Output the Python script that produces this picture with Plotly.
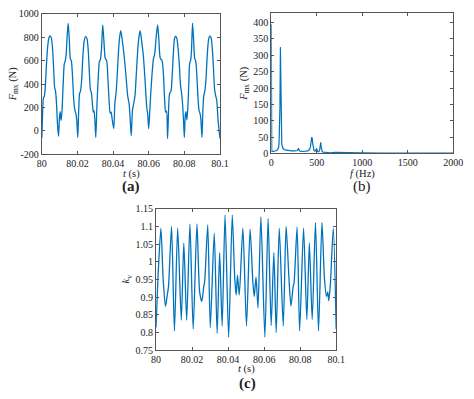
import plotly.graph_objects as go

# ---------------- data ----------------
# (a) F_mx waveform: time offsets (ms after 80 s) and force (N)
a_ms = [0.0, 0.5, 0.9, 1.4, 1.9, 2.6, 3.3, 4.0, 4.7, 5.4, 6.1, 6.7, 7.2, 7.7, 8.2, 8.8, 9.4,
        9.9, 10.3, 10.8, 11.3,
        12.0, 12.6, 13.1, 13.6, 14.2, 14.8, 15.4, 16.0, 16.6, 17.2, 17.9, 18.6, 19.1, 19.6, 20.2,
        20.7, 21.2, 21.7, 22.3, 23.0, 23.8, 24.6, 25.4, 26.1, 26.7, 27.3, 27.8, 28.4, 28.9, 29.3, 29.8, 30.3,
        30.9, 31.6, 32.3, 32.9, 33.5, 34.2, 34.9, 35.6, 36.4, 37.1, 37.8, 38.4, 38.9, 39.5, 40.4,
        41.0, 41.7, 42.5, 43.4, 44.3, 45.2, 46.2, 47.2, 48.2, 49.0, 49.6, 50.2,
        50.9, 51.6, 52.3, 53.1, 54.2, 55.2, 56.1, 57.0, 58.0, 58.9, 59.4, 60.0, 60.5, 61.2,
        62.0, 62.7, 63.3, 64.3, 65.0, 65.7, 66.5, 67.5, 68.3, 69.0, 69.5, 70.0, 70.6,
        71.2, 71.7, 72.5, 73.2, 73.9, 74.5, 75.1, 75.8, 76.5, 77.2, 77.9, 78.4, 79.0, 79.5, 80.0,
        80.5, 80.9, 81.4, 81.9,
        82.5, 83.0, 83.5, 84.0, 84.6, 85.2, 85.8, 86.4, 87.0, 87.7, 88.3, 88.8, 89.3, 89.9,
        90.4, 90.9, 91.5, 92.1, 92.8, 93.6, 94.3, 95.0, 95.7, 96.4, 97.0, 97.6, 98.2, 98.8, 99.4, 100.0]
a_force = [-60, 170, 280, 295, 360, 560, 720, 795, 812, 790, 690, 520, 370, 340, 250, 60, -45,
           110, 165, 90, 160,
           400, 570, 595, 640, 800, 920, 790, 620, 595, 480, 270, 175, 150, 95, -55,
           170, 320, 340, 420, 620, 770, 805, 785, 680, 500, 350, 330, 230, 160, 175, 90, -55,
           200, 430, 590, 610, 700, 905, 760, 620, 600, 450, 250, 150, 160, 100, 20,
           235, 330, 520, 760, 855, 770, 640, 480, 300, 230, 100, -40,
           180, 235, 300, 500, 760, 855, 760, 640, 420, 200, 150, 20, 140, 330,
           510, 620, 650, 820, 905, 780, 620, 600, 470, 250, 160, 170, -65,
           200, 318, 340, 480, 680, 790, 810, 790, 700, 560, 380, 330, 230, 100, -55,
           130, 165, 95, 180,
           400, 580, 600, 680, 920, 780, 620, 595, 480, 270, 170, 150, 95, -55,
           170, 300, 340, 430, 630, 780, 810, 795, 700, 520, 350, 300, 260, 120, 20, -65]

# (b) spectrum: frequency (Hz) and amplitude (N)
b_freq = [0, 5, 20, 40, 60, 70, 80, 85, 90, 95, 100, 105, 110, 115, 120, 130, 150, 180, 220, 260,
          285, 295, 300, 305, 315, 350, 380, 400, 420, 430, 438, 445, 450, 455, 462, 470, 480, 490,
          497, 503, 510, 520, 530, 537, 543, 548, 553, 560, 570, 600, 650, 700, 800, 900, 1000, 1200,
          1500, 1800, 2000]
b_amp = [395, 6, 6, 7, 9, 12, 18, 30, 60, 140, 325, 120, 50, 30, 22, 15, 11, 9, 8, 8,
         9, 13, 16, 10, 7, 6, 6, 8, 12, 20, 38, 50, 45, 30, 16, 9, 7, 9,
         15, 9, 6, 5, 8, 22, 34, 20, 9, 5, 4, 3, 2, 3, 2, 2, 2, 1,
         1, 1, 1]

# (c) k_v waveform: time offsets (ms after 80 s) and k_v
c_ms = [0.0, 1.3, 2.7, 3.9, 5.2, 6.2, 6.9, 8.6, 10.2, 12.0, 14.0, 15.4, 17.0, 18.8, 20.6, 22.7,
        24.2, 25.4, 26.5, 27.0, 28.7, 30.1, 32.3, 33.9, 35.3, 36.7, 38.3, 40.3, 42.3, 43.7, 44.5,
        45.2, 46.2, 48.2, 50.2, 52.2, 53.8, 54.5, 55.5, 56.6, 58.2, 60.4, 62.2, 63.9, 65.4, 66.7,
        68.4, 70.6, 72.2, 73.8, 74.9, 76.1, 76.6, 78.3, 79.7, 81.9, 83.7, 85.1, 86.7, 88.5, 90.2,
        92.1, 93.5, 94.6, 95.3, 95.9, 96.8, 98.4, 100.0]
c_kv = [0.815, 0.98, 1.095, 0.955, 0.874, 0.905, 0.93, 1.100, 0.805, 1.095, 0.835, 1.053, 0.835,
        1.107, 0.810, 1.107, 0.915, 0.888, 0.93, 0.945, 1.104, 0.814, 1.081, 0.798, 1.026, 0.819,
        1.132, 0.787, 1.132, 0.952, 0.906, 0.962, 0.906, 1.095, 0.819, 1.092, 0.938, 0.902, 0.957,
        0.870, 1.127, 0.787, 1.122, 0.820, 1.026, 0.800, 1.095, 0.819, 1.100, 0.952, 0.875, 0.93,
        0.94, 1.098, 0.805, 1.095, 0.837, 1.053, 0.837, 1.111, 0.805, 1.111, 0.952, 0.902, 0.915,
        0.89, 0.938, 1.095, 0.810]

# tick labels
t_tickvals = [80, 80.02, 80.04, 80.06, 80.08, 80.1]
t_ticktext = ["80", "80.02", "80.04", "80.06", "80.08", "80.1"]
a_yticks = [-200, 0, 200, 400, 600, 800, 1000]
a_yticktext = ["-200", "0", "200", "400", "600", "800", "1000"]
b_xticks = [0, 500, 1000, 1500, 2000]
b_yticks = [0, 50, 100, 150, 200, 250, 300, 350, 400]
c_yticks = [0.75, 0.8, 0.85, 0.9, 0.95, 1, 1.05, 1.1, 1.15]
c_yticktext = ["0.75", "0.8", "0.85", "0.9", "0.95", "1", "1.05", "1.1", "1.15"]

# ---------------- figure ----------------
W, H = 474, 399
BLUE = "#0072BD"
AX = "#555555"
FONT = "Times New Roman, Liberation Serif, serif"

a_t = [80 + v / 1000.0 for v in a_ms]
c_t = [80 + v / 1000.0 for v in c_ms]

fig = go.Figure()
fig.add_trace(go.Scatter(x=a_t, y=a_force, mode="lines", line=dict(color=BLUE, width=1.3, shape="spline", smoothing=0.7),
                         xaxis="x", yaxis="y", showlegend=False))
fig.add_trace(go.Scatter(x=b_freq, y=b_amp, mode="lines", line=dict(color=BLUE, width=1.2),
                         xaxis="x2", yaxis="y2", showlegend=False))
fig.add_trace(go.Scatter(x=c_t, y=c_kv, mode="lines", line=dict(color=BLUE, width=1.3, shape="spline", smoothing=0.7),
                         xaxis="x3", yaxis="y3", showlegend=False))


def px_x(p):
    return p / W


def px_y(p):
    return 1 - p / H


common = dict(showline=True, linecolor=AX, linewidth=1, mirror="ticks", ticks="inside", ticklen=3,
              tickcolor=AX, showgrid=False, zeroline=False,
              tickfont=dict(family=FONT, size=10, color="#222222"))

fig.update_layout(
    width=W, height=H, margin=dict(l=0, r=0, t=0, b=0),
    paper_bgcolor="white", plot_bgcolor="white",
    font=dict(family=FONT),
    xaxis=dict(domain=[px_x(38), px_x(222)], range=[80, 80.1], tickvals=t_tickvals, ticktext=t_ticktext,
               anchor="y", **common),
    yaxis=dict(domain=[px_y(153), px_y(8)], range=[-200, 1000], tickvals=a_yticks, ticktext=a_yticktext,
               anchor="x", **common),
    xaxis2=dict(domain=[px_x(275), px_x(463)], range=[0, 2000], tickvals=b_xticks, anchor="y2", **common),
    yaxis2=dict(domain=[px_y(152), px_y(7)], range=[0, 430], tickvals=b_yticks, anchor="x2", **common),
    xaxis3=dict(domain=[px_x(156), px_x(342)], range=[80, 80.1], tickvals=t_tickvals, ticktext=t_ticktext,
                anchor="y3", **common),
    yaxis3=dict(domain=[px_y(355), px_y(209)], range=[0.75, 1.15], tickvals=c_yticks, ticktext=c_yticktext,
                anchor="x3", **common),
)


def ann(text, x, y, size=10.5, angle=0):
    fig.add_annotation(text=text, x=px_x(x), y=px_y(y), xref="paper", yref="paper", showarrow=False,
                       textangle=angle, xanchor="center", yanchor="middle",
                       font=dict(family=FONT, size=size, color="#222222"))


ann("<i>F</i><sub>mx</sub> (N)", 9, 80, angle=-90)
ann("<i>t</i> (s)", 131, 173)
ann("<b>(a)</b>", 130, 186, size=15)
ann("<i>F</i><sub>mx</sub> (N)", 247, 80, angle=-90)
ann("<i>f</i> (Hz)", 369, 173)
ann("(b)", 369, 186, size=15)
ann("<i>k</i><sub>v</sub>", 126, 282, angle=-90)
ann("<i>t</i> (s)", 249, 374)
ann("<b>(c)</b>", 250, 389, size=15)

fig.write_html("out.html", config={"displayModeBar": False},
               post_script="document.body.style.margin='0';document.body.style.padding='0';")
